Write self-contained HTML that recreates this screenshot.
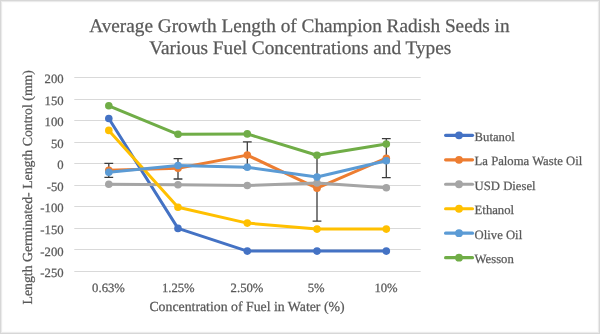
<!DOCTYPE html><html><head><meta charset="utf-8"><style>html,body{margin:0;padding:0;background:#fff;}svg{display:block;will-change:transform;}text{font-family:"Liberation Serif",serif;fill:#595959;text-rendering:geometricPrecision;stroke:#595959;stroke-width:0.25px;}</style></head><body>
<svg width="600" height="334" viewBox="0 0 600 334">
<rect x="0" y="0" width="600" height="334" fill="#d7d7d7"/><rect x="1" y="1" width="598" height="332" fill="#ebebeb"/><rect x="2" y="2" width="596" height="330" fill="#fcfcfc"/><rect x="3" y="3" width="594" height="328" fill="#ffffff"/>
<text x="299.4" y="32.1" font-size="19.25" text-anchor="middle">Average Growth Length of Champion Radish Seeds in</text>
<text x="300.2" y="54.0" font-size="19.25" text-anchor="middle">Various Fuel Concentrations and Types</text>
<line x1="74.3" y1="77.50" x2="420.7" y2="77.50" stroke="#D9D9D9" stroke-width="1"/>
<line x1="74.3" y1="99.50" x2="420.7" y2="99.50" stroke="#D9D9D9" stroke-width="1"/>
<line x1="74.3" y1="120.50" x2="420.7" y2="120.50" stroke="#D9D9D9" stroke-width="1"/>
<line x1="74.3" y1="142.50" x2="420.7" y2="142.50" stroke="#D9D9D9" stroke-width="1"/>
<line x1="74.3" y1="163.50" x2="420.7" y2="163.50" stroke="#D9D9D9" stroke-width="1"/>
<line x1="74.3" y1="185.50" x2="420.7" y2="185.50" stroke="#D9D9D9" stroke-width="1"/>
<line x1="74.3" y1="206.50" x2="420.7" y2="206.50" stroke="#D9D9D9" stroke-width="1"/>
<line x1="74.3" y1="228.50" x2="420.7" y2="228.50" stroke="#D9D9D9" stroke-width="1"/>
<line x1="74.3" y1="249.50" x2="420.7" y2="249.50" stroke="#D9D9D9" stroke-width="1"/>
<line x1="74.3" y1="271.50" x2="420.7" y2="271.50" stroke="#D9D9D9" stroke-width="1"/>
<text transform="translate(63.6,83.10) scale(1,1.0)" font-size="12.7" text-anchor="end">200</text>
<text transform="translate(63.6,104.66) scale(1,1.0)" font-size="12.7" text-anchor="end">150</text>
<text transform="translate(63.6,126.21) scale(1,1.0)" font-size="12.7" text-anchor="end">100</text>
<text transform="translate(63.6,147.76) scale(1,1.0)" font-size="12.7" text-anchor="end">50</text>
<text transform="translate(63.6,169.32) scale(1,1.0)" font-size="12.7" text-anchor="end">0</text>
<text transform="translate(63.6,190.88) scale(1,1.0)" font-size="12.7" text-anchor="end">-50</text>
<text transform="translate(63.6,212.43) scale(1,1.0)" font-size="12.7" text-anchor="end">-100</text>
<text transform="translate(63.6,233.98) scale(1,1.0)" font-size="12.7" text-anchor="end">-150</text>
<text transform="translate(63.6,255.54) scale(1,1.0)" font-size="12.7" text-anchor="end">-200</text>
<text transform="translate(63.6,277.10) scale(1,1.0)" font-size="12.7" text-anchor="end">-250</text>
<text transform="translate(108.5,291.60) scale(1,1.0)" font-size="12.7" text-anchor="middle">0.63%</text>
<text transform="translate(178.3,291.60) scale(1,1.0)" font-size="12.7" text-anchor="middle">1.25%</text>
<text transform="translate(247.0,291.60) scale(1,1.0)" font-size="12.7" text-anchor="middle">2.50%</text>
<text transform="translate(316.1,291.60) scale(1,1.0)" font-size="12.7" text-anchor="middle">5%</text>
<text transform="translate(386.0,291.60) scale(1,1.0)" font-size="12.7" text-anchor="middle">10%</text>
<text x="247" y="311.2" font-size="13.8" text-anchor="middle">Concentration of Fuel in Water (%)</text>
<text transform="translate(31.6,187.3) rotate(-90)" x="0" y="0" font-size="13.8" text-anchor="middle">Length Germinated- Length Control (mm)</text>
<polyline points="108.8,118.5 178.0,228.4 247.3,251.1 317.0,251.1 386.3,251.1" fill="none" stroke="#4472C4" stroke-width="3" stroke-linejoin="round" stroke-linecap="round"/>
<circle cx="108.8" cy="118.5" r="3.8" fill="#4472C4"/>
<circle cx="178.0" cy="228.4" r="3.8" fill="#4472C4"/>
<circle cx="247.3" cy="251.1" r="3.8" fill="#4472C4"/>
<circle cx="317.0" cy="251.1" r="3.8" fill="#4472C4"/>
<circle cx="386.3" cy="251.1" r="3.8" fill="#4472C4"/>
<polyline points="108.8,170.3 178.0,168.3 247.3,155.1 317.0,188.2 386.3,158.2" fill="none" stroke="#ED7D31" stroke-width="3" stroke-linejoin="round" stroke-linecap="round"/>
<path d="M108.8 163.4 V177.3 M104.4 163.4 H113.2 M104.4 177.3 H113.2" stroke="#3c3c3c" stroke-width="1.3" fill="none"/>
<path d="M178.0 158.6 V179.0 M173.6 158.6 H182.4 M173.6 179.0 H182.4" stroke="#3c3c3c" stroke-width="1.3" fill="none"/>
<path d="M247.3 141.8 V168.4 M242.9 141.8 H251.7 M242.9 168.4 H251.7" stroke="#3c3c3c" stroke-width="1.3" fill="none"/>
<path d="M317.0 155.2 V221.2 M312.6 155.2 H321.4 M312.6 221.2 H321.4" stroke="#3c3c3c" stroke-width="1.3" fill="none"/>
<path d="M386.3 138.7 V177.7 M381.9 138.7 H390.7 M381.9 177.7 H390.7" stroke="#3c3c3c" stroke-width="1.3" fill="none"/>
<circle cx="108.8" cy="170.3" r="3.8" fill="#ED7D31"/>
<circle cx="178.0" cy="168.3" r="3.8" fill="#ED7D31"/>
<circle cx="247.3" cy="155.1" r="3.8" fill="#ED7D31"/>
<circle cx="317.0" cy="188.2" r="3.8" fill="#ED7D31"/>
<circle cx="386.3" cy="158.2" r="3.8" fill="#ED7D31"/>
<polyline points="108.8,184.2 178.0,184.8 247.3,185.5 317.0,183.0 386.3,187.8" fill="none" stroke="#A5A5A5" stroke-width="3" stroke-linejoin="round" stroke-linecap="round"/>
<circle cx="108.8" cy="184.2" r="3.8" fill="#A5A5A5"/>
<circle cx="178.0" cy="184.8" r="3.8" fill="#A5A5A5"/>
<circle cx="247.3" cy="185.5" r="3.8" fill="#A5A5A5"/>
<circle cx="317.0" cy="183.0" r="3.8" fill="#A5A5A5"/>
<circle cx="386.3" cy="187.8" r="3.8" fill="#A5A5A5"/>
<polyline points="108.8,130.4 178.0,207.3 247.3,223.1 317.0,229.1 386.3,229.1" fill="none" stroke="#FFC000" stroke-width="3" stroke-linejoin="round" stroke-linecap="round"/>
<circle cx="108.8" cy="130.4" r="3.8" fill="#FFC000"/>
<circle cx="178.0" cy="207.3" r="3.8" fill="#FFC000"/>
<circle cx="247.3" cy="223.1" r="3.8" fill="#FFC000"/>
<circle cx="317.0" cy="229.1" r="3.8" fill="#FFC000"/>
<circle cx="386.3" cy="229.1" r="3.8" fill="#FFC000"/>
<polyline points="108.8,172.3 178.0,165.5 247.3,167.2 317.0,177.0 386.3,160.7" fill="none" stroke="#5B9BD5" stroke-width="3" stroke-linejoin="round" stroke-linecap="round"/>
<circle cx="108.8" cy="172.3" r="3.8" fill="#5B9BD5"/>
<circle cx="178.0" cy="165.5" r="3.8" fill="#5B9BD5"/>
<circle cx="247.3" cy="167.2" r="3.8" fill="#5B9BD5"/>
<circle cx="317.0" cy="177.0" r="3.8" fill="#5B9BD5"/>
<circle cx="386.3" cy="160.7" r="3.8" fill="#5B9BD5"/>
<polyline points="108.8,105.8 178.0,134.3 247.3,133.9 317.0,155.3 386.3,144.0" fill="none" stroke="#70AD47" stroke-width="3" stroke-linejoin="round" stroke-linecap="round"/>
<circle cx="108.8" cy="105.8" r="3.8" fill="#70AD47"/>
<circle cx="178.0" cy="134.3" r="3.8" fill="#70AD47"/>
<circle cx="247.3" cy="133.9" r="3.8" fill="#70AD47"/>
<circle cx="317.0" cy="155.3" r="3.8" fill="#70AD47"/>
<circle cx="386.3" cy="144.0" r="3.8" fill="#70AD47"/>
<line x1="445.6" y1="135.30" x2="472.5" y2="135.30" stroke="#4472C4" stroke-width="3.2" stroke-linecap="round"/>
<circle cx="459" cy="135.30" r="3.9" fill="#4472C4"/>
<text transform="translate(474.6,140.90) scale(1,1.0)" font-size="12.7">Butanol</text>
<line x1="445.6" y1="159.78" x2="472.5" y2="159.78" stroke="#ED7D31" stroke-width="3.2" stroke-linecap="round"/>
<circle cx="459" cy="159.78" r="3.9" fill="#ED7D31"/>
<text transform="translate(474.6,165.38) scale(1,1.0)" font-size="12.7">La Paloma Waste Oil</text>
<line x1="445.6" y1="184.26" x2="472.5" y2="184.26" stroke="#A5A5A5" stroke-width="3.2" stroke-linecap="round"/>
<circle cx="459" cy="184.26" r="3.9" fill="#A5A5A5"/>
<text transform="translate(474.6,189.86) scale(1,1.0)" font-size="12.7">USD Diesel</text>
<line x1="445.6" y1="208.74" x2="472.5" y2="208.74" stroke="#FFC000" stroke-width="3.2" stroke-linecap="round"/>
<circle cx="459" cy="208.74" r="3.9" fill="#FFC000"/>
<text transform="translate(474.6,214.34) scale(1,1.0)" font-size="12.7">Ethanol</text>
<line x1="445.6" y1="233.22" x2="472.5" y2="233.22" stroke="#5B9BD5" stroke-width="3.2" stroke-linecap="round"/>
<circle cx="459" cy="233.22" r="3.9" fill="#5B9BD5"/>
<text transform="translate(474.6,238.82) scale(1,1.0)" font-size="12.7">Olive Oil</text>
<line x1="445.6" y1="257.70" x2="472.5" y2="257.70" stroke="#70AD47" stroke-width="3.2" stroke-linecap="round"/>
<circle cx="459" cy="257.70" r="3.9" fill="#70AD47"/>
<text transform="translate(474.6,263.30) scale(1,1.0)" font-size="12.7">Wesson</text>
</svg></body></html>
